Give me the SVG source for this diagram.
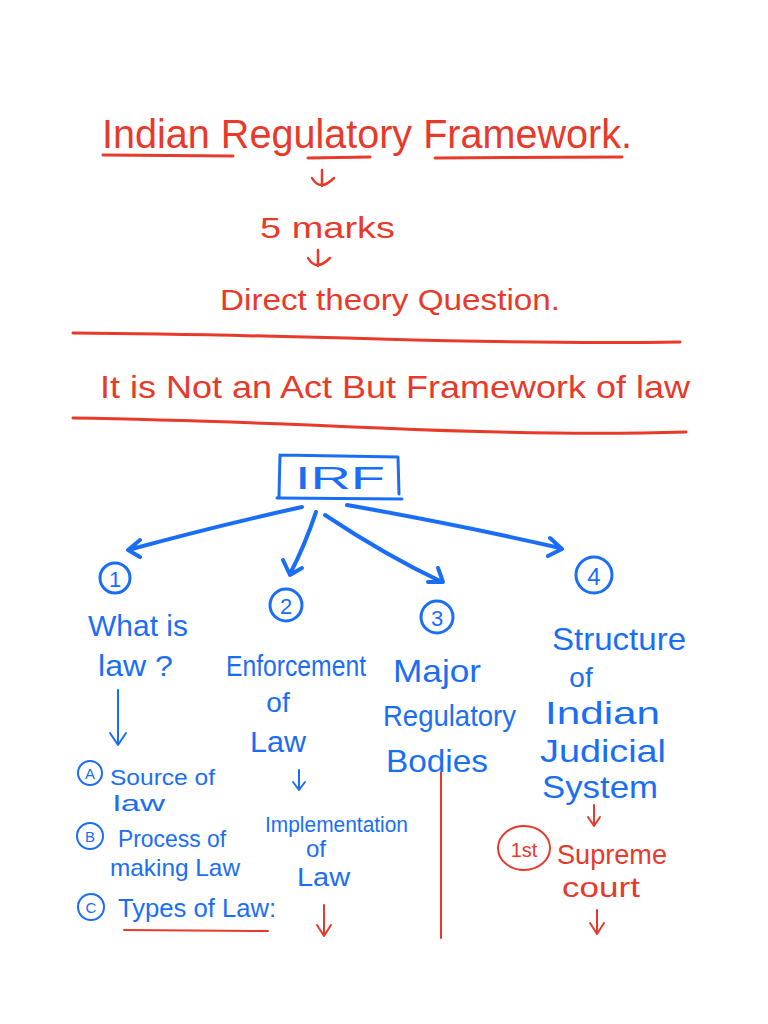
<svg xmlns="http://www.w3.org/2000/svg" width="768" height="1024" viewBox="0 0 768 1024">
<style>
.r{fill:#e8392a;font-family:"Liberation Sans","Noto Sans",sans-serif}
.b{fill:#1a6ef5;font-family:"Liberation Sans","Noto Sans",sans-serif}
.rl{stroke:#e8392a;stroke-width:3;fill:none;stroke-linecap:round;stroke-linejoin:round}
.rt{stroke:#e8392a;stroke-width:2;fill:none;stroke-linecap:round;stroke-linejoin:round}
.bl{stroke:#1a6ef5;stroke-width:4;fill:none;stroke-linecap:round;stroke-linejoin:round}
.bt{stroke:#1a6ef5;stroke-width:2;fill:none;stroke-linecap:round;stroke-linejoin:round}
</style>
<rect width="768" height="1024" fill="#ffffff"/>

<g id="title">
<text class="r" x="102" y="148" font-size="40" textLength="530" lengthAdjust="spacingAndGlyphs">Indian Regulatory Framework.</text>
<path class="rl" d="M103 155 L233 156 M308 158 L370 157 M435 158 L622 157"/>
</g>
<g id="marks">
<text class="r" x="260" y="238" font-size="30" textLength="135" lengthAdjust="spacingAndGlyphs">5 marks</text>
</g>
<g id="direct">
<text class="r" x="220" y="310" font-size="30" textLength="340" lengthAdjust="spacingAndGlyphs">Direct theory Question.</text>
</g>
<g id="note">
<path class="rl" d="M73 333 Q200 334 380 339 T680 342"/>
<text class="r" x="100" y="398" font-size="32" textLength="590" lengthAdjust="spacingAndGlyphs">It is Not an Act But Framework of law</text>
<path class="rl" d="M73 418 Q200 420 380 428 T686 432"/>
</g>

<g id="irf">
<path class="bl" d="M280 455 L398 457 L399 494 M280 455 L279 496 M277 498 L402 499" style="stroke-width:3"/>
<text class="b" x="340" y="489" font-size="32" text-anchor="middle" textLength="90" lengthAdjust="spacingAndGlyphs">IRF</text>
</g>

<g id="connectors">
<path class="bl" d="M302 507 Q220 525 128 550 M140 540 L128 550 L140 557"/>
<path class="bl" d="M316 512 Q305 545 290 574 M283 560 L290 575 L302 568"/>
<path class="bl" d="M325 515 Q385 555 442 582 M438 568 L443 582 L428 582"/>
<path class="bl" d="M347 505 Q460 525 560 548 M550 538 L562 549 L548 556"/>
<path class="bt" d="M118 690 L118 745 M110 733 L118 745 L126 733"/>
<path class="bt" d="M299 770 L299 790 M293 782 L299 790 L305 782"/>
<path class="rt" d="M324 905 L324 935 M317 925 L324 936 L331 925"/>
<path class="rt" d="M441 772 L441 938"/>
<path class="rt" d="M594 805 L594 825 M588 817 L594 826 L600 817"/>
<path class="rt" d="M597 910 L597 933 M590 923 L597 934 L604 923"/>
<path class="rt" d="M124 930 L268 931"/>
</g>

<g id="n1">
<circle cx="115" cy="578" r="15" class="bl" style="stroke-width:3"/>
<text class="b" x="115" y="587" font-size="22" text-anchor="middle">1</text>
<text class="b" x="88" y="636" font-size="30" textLength="100" lengthAdjust="spacingAndGlyphs">What is</text>
<text class="b" x="98" y="676" font-size="30" textLength="75" lengthAdjust="spacingAndGlyphs">law ?</text>
</g>
<g id="n2">
<circle cx="286" cy="605" r="16" class="bl" style="stroke-width:3"/>
<text class="b" x="286" y="614" font-size="22" text-anchor="middle">2</text>
<text class="b" x="226" y="676" font-size="30" textLength="140" lengthAdjust="spacingAndGlyphs">Enforcement</text>
<text class="b" x="278" y="712" font-size="28" text-anchor="middle">of</text>
<text class="b" x="250" y="752" font-size="30" textLength="56" lengthAdjust="spacingAndGlyphs">Law</text>
</g>
<g id="n3">
<circle cx="437" cy="617" r="16" class="bl" style="stroke-width:3"/>
<text class="b" x="437" y="626" font-size="22" text-anchor="middle">3</text>
<text class="b" x="393" y="682" font-size="32" textLength="88" lengthAdjust="spacingAndGlyphs">Major</text>
<text class="b" x="383" y="726" font-size="30" textLength="133" lengthAdjust="spacingAndGlyphs">Regulatory</text>
<text class="b" x="386" y="772" font-size="32" textLength="102" lengthAdjust="spacingAndGlyphs">Bodies</text>
</g>
<g id="n4">
<circle cx="594" cy="575" r="18" class="bl" style="stroke-width:3"/>
<text class="b" x="594" y="585" font-size="24" text-anchor="middle">4</text>
<text class="b" x="552" y="650" font-size="32" textLength="134" lengthAdjust="spacingAndGlyphs">Structure</text>
<text class="b" x="581" y="687" font-size="28" text-anchor="middle">of</text>
<text class="b" x="545" y="724" font-size="32" textLength="115" lengthAdjust="spacingAndGlyphs">Indian</text>
<text class="b" x="540" y="762" font-size="32" textLength="126" lengthAdjust="spacingAndGlyphs">Judicial</text>
<text class="b" x="542" y="798" font-size="32" textLength="116" lengthAdjust="spacingAndGlyphs">System</text>
</g>

<g id="na">
<circle cx="90" cy="773" r="12" class="bt"/>
<text class="b" x="90" y="779" font-size="15" text-anchor="middle">A</text>
<text class="b" x="110" y="785" font-size="22" textLength="105" lengthAdjust="spacingAndGlyphs">Source of</text>
<text class="b" x="113" y="811" font-size="22" textLength="52" lengthAdjust="spacingAndGlyphs">law</text>
</g>
<g id="nb">
<circle cx="90" cy="836" r="13" class="bt"/>
<text class="b" x="90" y="842" font-size="15" text-anchor="middle">B</text>
<text class="b" x="118" y="847" font-size="24" textLength="108" lengthAdjust="spacingAndGlyphs">Process of</text>
<text class="b" x="110" y="876" font-size="24" textLength="130" lengthAdjust="spacingAndGlyphs">making Law</text>
</g>
<g id="nc">
<circle cx="91" cy="907" r="13" class="bt"/>
<text class="b" x="91" y="913" font-size="15" text-anchor="middle">C</text>
<text class="b" x="118" y="917" font-size="26" textLength="158" lengthAdjust="spacingAndGlyphs">Types of Law:</text>
</g>
<g id="nimpl">
<text class="b" x="265" y="832" font-size="22" textLength="143" lengthAdjust="spacingAndGlyphs">Implementation</text>
<text class="b" x="316" y="857" font-size="24" text-anchor="middle">of</text>
<text class="b" x="297" y="886" font-size="26" textLength="53" lengthAdjust="spacingAndGlyphs">Law</text>
</g>
<g id="nsc">
<ellipse cx="524" cy="848" rx="26" ry="22" class="rt"/>
<text class="r" x="524" y="857" font-size="20" text-anchor="middle">1st</text>
<text class="r" x="557" y="864" font-size="28" textLength="110" lengthAdjust="spacingAndGlyphs">Supreme</text>
<text class="r" x="562" y="897" font-size="28" textLength="78" lengthAdjust="spacingAndGlyphs">court</text>
</g>
<g id="arrows-top">
<path class="rl" d="M322 170 L322 186 M312 178 Q320 192 334 178" style="stroke-width:2.5"/>
<path class="rl" d="M318 250 L318 266 M308 258 Q316 272 330 258" style="stroke-width:2.5"/>
</g>
</svg>
